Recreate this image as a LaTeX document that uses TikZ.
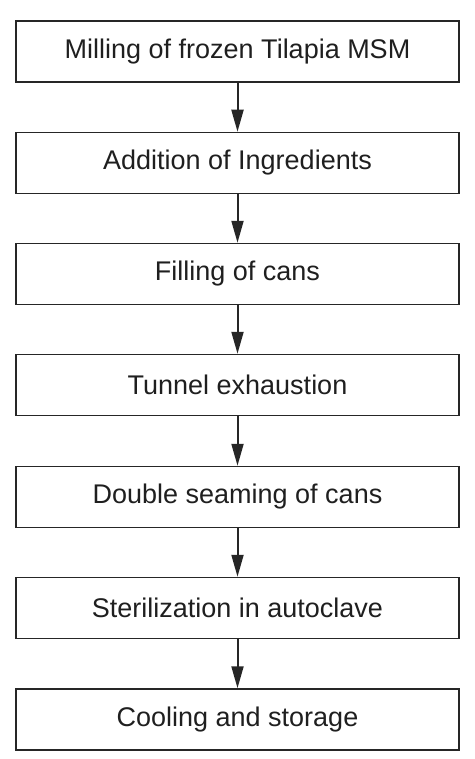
\documentclass[tikz,border=0pt]{standalone}
\usepackage{fontspec}
\setmainfont{Liberation Sans}
\usetikzlibrary{arrows.meta}
\begin{document}
\begin{tikzpicture}[x=1pt,y=-1pt,
  stepbox/.style={draw=black!85, line width=1.5pt, minimum width=443pt, minimum height=61pt,
    inner sep=0pt, font=\fontsize{27}{32}\selectfont, text=black!88},
  flow/.style={draw=black!85, line width=2pt, -{Triangle[length=22pt,width=12pt]}, shorten >=0pt}]
\useasboundingbox (0,0) rectangle (474,759);
\node[stepbox] (s1) at (237.5,51.5) {Milling of frozen Tilapia MSM};
\node[stepbox] (s2) at (237.5,163) {Addition of Ingredients};
\node[stepbox] (s3) at (237.5,274) {Filling of cans};
\node[stepbox] (s4) at (237.5,385) {Tunnel exhaustion};
\node[stepbox] (s5) at (237.5,497) {Double seaming of cans};
\node[stepbox] (s6) at (237.5,608) {Sterilization in autoclave};
\node[stepbox] (s7) at (237.5,719.5) {Cooling and storage};
\foreach \a/\b in {s1/s2,s2/s3,s3/s4,s4/s5,s5/s6,s6/s7}
  \draw[flow] (\a.south) -- (\b.north);
\end{tikzpicture}
\end{document}
